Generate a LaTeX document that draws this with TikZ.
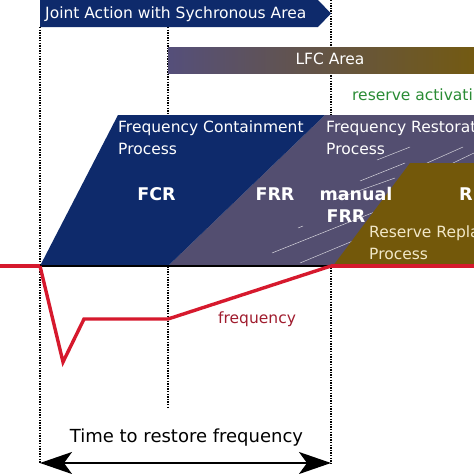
\documentclass[tikz,border=0pt]{standalone}
\usepackage{fontspec}
\setmainfont{DejaVu Sans}
\usetikzlibrary{arrows.meta}
\definecolor{navy}{HTML}{0E2A6B}
\definecolor{frrcol}{HTML}{534E70}
\definecolor{rrcol}{HTML}{73580A}
\definecolor{lfcl}{HTML}{554F7A}
\definecolor{lfcr}{HTML}{735A12}
\definecolor{greentxt}{HTML}{2A8C35}
\definecolor{redline}{HTML}{D6192D}
\definecolor{freqtxt}{HTML}{A01C2E}
\definecolor{cream}{HTML}{F2E8C8}
\tikzset{
  lbl/.style={inner sep=0pt, anchor=base west, font=\fontsize{15.5}{18}\selectfont},
  bigl/.style={inner sep=0pt, anchor=base, text=white, font=\fontsize{17.5}{20}\selectfont\bfseries},
  vdot/.style={line width=1.3pt, dash pattern=on 1.3pt off 1.3pt},
  hatch/.style={white, line width=0.5pt, opacity=0.75},
  redcurve/.style={redline, line width=3.4pt, line join=miter},
}
\begin{document}
\begin{tikzpicture}[x=1pt,y=-1pt]
\useasboundingbox (0,0) rectangle (474,474);
\clip (0,0) rectangle (474,474);
\fill[white] (0,0) rectangle (474,474);

% coordinates
\coordinate (t0) at (40,266);
\coordinate (t1) at (168,266);
\coordinate (t2) at (331,266);

% dotted verticals
\draw[vdot] (40,27) -- (40,463);
\draw[vdot] (168,27) -- (168,407);
\draw[vdot] (331,0) -- (331,463);

% top arrow
\fill[navy] (40,0) -- (318,0) -- (331,13.5) -- (318,27) -- (40,27) -- cycle;
\node[lbl, text=white] (ja) at (45,18.5) {Joint Action with Sychronous Area};

% LFC bar
\shade[left color=lfcl, right color=lfcr] (168,47) rectangle (474,73);
\node[lbl, anchor=base, text=white] (lfc) at (330,64.5) {LFC Area};

\node[lbl, text=greentxt] (ra) at (352,100) {reserve activati};

% FRR region
\fill[frrcol] (168,266) -- (325,115) -- (474,115) -- (474,266) -- cycle;
% hatch lines
\begin{scope}
\clip (168,266) -- (325,115) -- (474,115) -- (474,266) -- cycle;
\draw[hatch] (272,253) -- (392,205);
\draw[hatch] (300,263) -- (372,233);
\draw[hatch] (330,267) -- (352,259);
\draw[hatch] (298,228) -- (303,226);
\draw[hatch] (333,200) -- (395,178);
\draw[hatch] (360,181) -- (405,163);
\draw[hatch] (377,160) -- (410,147);
\draw[hatch] (427,163) -- (463,147);
\draw[hatch] (453,163) -- (474,153);
\end{scope}
% FCR region
\fill[navy] (40,266) -- (118,115) -- (325,115) -- (168,266) -- cycle;
% RR region
\fill[rrcol] (333,266) -- (410,163) -- (474,163) -- (474,266) -- cycle;

% texts
\node[lbl, text=white] (fcp1) at (118,132) {Frequency Containment};
\node[lbl, text=white] (fcp2) at (118,154.5) {Process};
\node[lbl, text=white] (frp1) at (326,132) {Frequency Restorat};
\node[lbl, text=white] (frp2) at (326,154.5) {Process};
\node[bigl] (fcr) at (156.5,200) {FCR};
\node[bigl] (frr) at (275,200) {FRR};
\node[bigl] (man1) at (356,200) {manual};
\node[bigl] (man2) at (346,222) {FRR};
\node[bigl, anchor=base west] (rr) at (459,200) {R};
\node[lbl, text=cream] (rrp1) at (369,237.5) {Reserve Repla};
\node[lbl, text=cream] (rrp2) at (369,259.5) {Process};

% base lines
\draw[line width=1.8pt] (t0) -- (t2);
\draw[redline, line width=3.4pt] (0,266) -- (t0);
\draw[redline, line width=3.4pt] (t2) -- (474,266);

% frequency curve
\coordinate (dip) at (63,362);
\coordinate (rec) at (84,319);
\coordinate (mid) at (168,319);
\draw[redcurve] (t0) -- (dip) -- (rec) -- (mid) -- (t2);
\node[lbl, text=freqtxt] (freq) at (218,323) {frequency};

% time arrow
\node[inner sep=0pt, anchor=base, font=\fontsize{18}{20}\selectfont] (trf) at (186.5,442) {Time to restore frequency};
\coordinate (al) at (40,463);
\coordinate (ar) at (331,463);
\draw[line width=1.8pt, {Stealth[length=32pt,width=22pt,inset=8pt]}-{Stealth[length=32pt,width=22pt,inset=8pt]}] (al) -- (ar);
\end{tikzpicture}
\end{document}
